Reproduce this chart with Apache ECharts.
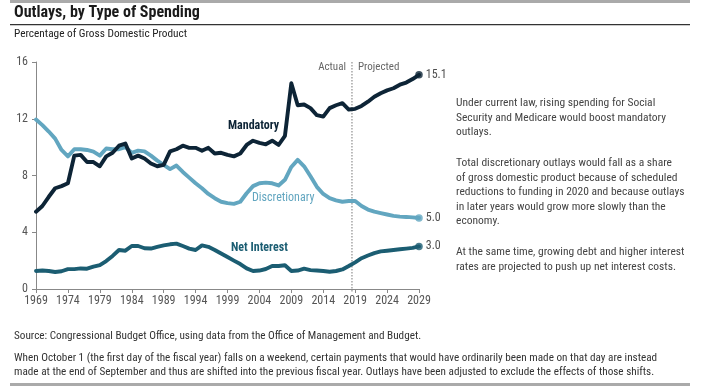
<!DOCTYPE html>
<html><head><meta charset="utf-8">
<script src="https://cdn.jsdelivr.net/npm/echarts@6/dist/echarts.min.js"></script>
<style>html,body{margin:0;padding:0;background:#fff}#c{width:702px;height:390px}</style>
</head><body><div id="c"></div>
<script>
var years = [];
for (var y = 1969; y <= 2029; y++) years.push(String(y));
var mandatory = [5.45,5.85,6.5,7.1,7.25,7.45,9.4,9.45,8.95,8.95,
 8.65,9.35,9.6,10.1,10.25,9.2,9.4,9.2,8.85,8.65,
 8.75,9.7,9.85,10.1,9.95,9.95,9.75,9.95,9.55,9.6,
 9.45,9.35,9.55,10.15,10.45,10.3,10.2,10.45,10.15,10.8,
 14.5,12.95,13.0,12.75,12.25,12.15,12.75,12.95,13.1,12.65,
 12.7,12.9,13.2,13.55,13.8,14.0,14.15,14.4,14.55,14.8,15.1];
var discretionary = [11.95,11.55,11.1,10.6,9.8,9.35,9.85,9.85,9.8,9.68,
 9.4,9.9,9.85,9.85,10.0,9.6,9.75,9.7,9.4,9.05,
 8.75,8.45,8.7,8.25,7.85,7.45,7.1,6.7,6.4,6.15,
 6.05,6.0,6.15,6.75,7.25,7.45,7.5,7.45,7.3,7.7,
 8.6,9.1,8.65,7.95,7.2,6.7,6.4,6.25,6.15,6.2,
 6.2,5.85,5.6,5.45,5.35,5.25,5.15,5.1,5.08,5.05,5.0];
var netInterest = [1.27,1.3,1.27,1.2,1.25,1.4,1.4,1.45,1.43,1.57,
 1.68,1.97,2.33,2.75,2.7,3.03,3.03,2.87,2.85,2.97,
 3.07,3.15,3.2,3.03,2.85,2.75,3.07,2.97,2.75,2.5,
 2.25,2.0,1.76,1.45,1.27,1.3,1.41,1.62,1.62,1.67,
 1.27,1.3,1.43,1.33,1.3,1.27,1.22,1.27,1.38,1.62,
 1.88,2.17,2.36,2.53,2.65,2.7,2.75,2.8,2.85,2.9,3.0];
var yTicks = [0,4,8,12,16];
var lastActual = '2018', firstProjected = '2019';

var FONT = "'Liberation Sans Narrow','Roboto Condensed','Liberation Sans',Arial,sans-serif";
var C_M = '#0d2436', C_D = '#62a6c0', C_N = '#1b5d72', GREY = '#555';

var chart = echarts.init(document.getElementById('c'), null, {renderer:'canvas'});
var last = years.length - 1;
function endPoint(arr, color, name){
  return {type:'scatter', name:name, data:[[years[last], arr[last]]], symbol:'circle', symbolSize:7.5,
    itemStyle:{color:color}, z:5, silent:true,
    label:{show:true, position:'right', distance:3, formatter:function(p){return p.value[1].toFixed(1);},
      color:'#222', fontFamily:FONT, fontSize:12}};
}
function line(arr, color, name){
  return {type:'line', name:name, data:arr, showSymbol:false, smooth:false, silent:true,
    lineStyle:{color:color, width:3.9, join:'round', cap:'round'}, z:3};
}
chart.setOption({
  animation:false,
  textStyle:{fontFamily:FONT},
  grid:{left:36, right:283, top:62, bottom:101, containLabel:false},
  xAxis:{type:'category', data:years, boundaryGap:false,
    axisLine:{lineStyle:{color:'#888', width:1}},
    axisTick:{alignWithLabel:true, interval:function(i){return i%5===0;}, length:4, lineStyle:{color:'#888'}},
    axisLabel:{interval:function(i){return i%5===0;}, color:GREY, fontSize:12, fontFamily:FONT, margin:6}},
  yAxis:{type:'value', min:yTicks[0], max:yTicks[yTicks.length-1], interval:4,
    splitLine:{show:false},
    axisLine:{show:true, lineStyle:{color:'#888'}},
    axisTick:{show:true, length:4, lineStyle:{color:'#888'}},
    axisLabel:{color:GREY, fontSize:12, fontFamily:FONT, margin:8}},
  series:[line(discretionary, C_D, 'Discretionary'), line(netInterest, C_N, 'Net Interest'), line(mandatory, C_M, 'Mandatory'),
    endPoint(mandatory, C_M, 'm'), endPoint(discretionary, C_D, 'd'), endPoint(netInterest, C_N, 'n')]
});

var xa = chart.convertToPixel({xAxisIndex:0}, lastActual);
var xb = chart.convertToPixel({xAxisIndex:0}, firstProjected);
var xd = (xa + xb) / 2;
var yTop = chart.convertToPixel({yAxisIndex:0}, 16);
var yBot = chart.convertToPixel({yAxisIndex:0}, 0);

var para = {fontFamily:FONT, fontSize:11.5, fill:'#444', lineHeight:14.5};
chart.setOption({graphic:[
  {type:'rect', shape:{x:10, y:0, width:680, height:3}, style:{fill:'#aaa'}},
  {type:'text', left:14, top:5, style:{text:'Outlays, by Type of Spending', fontFamily:FONT, fontWeight:'bold', fontSize:16, fill:'#1a1a1a'}},
  {type:'rect', shape:{x:10, y:24, width:680, height:1.3}, style:{fill:'#333'}},
  {type:'text', left:14, top:29, style:{text:'Percentage of Gross Domestic Product', fontFamily:FONT, fontSize:11.3, fill:'#222'}},
  {type:'line', shape:{x1:xd, y1:yTop, x2:xd, y2:yBot+3}, style:{stroke:'#777', lineWidth:1, lineDash:[1.5,1.5]}},
  {type:'text', x:xd-6, y:yTop+5, style:{text:'Actual', fontFamily:FONT, fontSize:11, fill:'#666', textAlign:'right', textVerticalAlign:'middle'}},
  {type:'text', x:xd+6, y:yTop+5, style:{text:'Projected', fontFamily:FONT, fontSize:11, fill:'#666', textAlign:'left', textVerticalAlign:'middle'}},
  {type:'text', x:228, y:126, style:{text:'Mandatory', fontFamily:FONT, fontWeight:'bold', fontSize:12, fill:C_M, textVerticalAlign:'middle'}},
  {type:'text', x:252, y:198, style:{text:'Discretionary', fontFamily:FONT, fontSize:12, fill:C_D, textVerticalAlign:'middle'}},
  {type:'text', x:231, y:248, style:{text:'Net Interest', fontFamily:FONT, fontWeight:'bold', fontSize:12, fill:C_N, textVerticalAlign:'middle'}},
  {type:'text', x:456, y:96, style:Object.assign({text:'Under current law, rising spending for Social\nSecurity and Medicare would boost mandatory\noutlays.'}, para)},
  {type:'text', x:456, y:156, style:Object.assign({text:'Total discretionary outlays would fall as a share\nof gross domestic product because of scheduled\nreductions to funding in 2020 and because outlays\nin later years would grow more slowly than the\neconomy.'}, para)},
  {type:'text', x:456, y:245, style:Object.assign({text:'At the same time, growing debt and higher interest\nrates are projected to push up net interest costs.'}, para)},
  {type:'text', x:14, y:331, style:{text:'Source: Congressional Budget Office, using data from the Office of Management and Budget.', fontFamily:FONT, fontSize:11.2, fill:'#333'}},
  {type:'text', x:14, y:351, style:{text:'When October 1 (the first day of the fiscal year) falls on a weekend, certain payments that would have ordinarily been made on that day are instead\nmade at the end of September and thus are shifted into the previous fiscal year. Outlays have been adjusted to exclude the effects of those shifts.', fontFamily:FONT, fontSize:11.2, fill:'#333', lineHeight:14}},
  {type:'rect', shape:{x:10, y:383, width:680, height:3}, style:{fill:'#aaa'}}
]});
</script></body></html>
